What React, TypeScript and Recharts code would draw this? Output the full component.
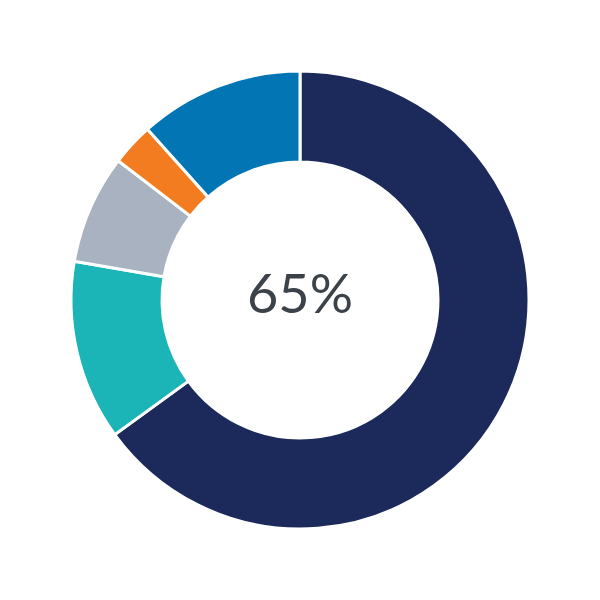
import React from "react";
import { PieChart, Pie, Cell, Label } from "recharts";

const categories = ["Navy", "Teal", "Grey", "Orange", "Blue"];
const values = [65, 12.7, 7.7, 3, 11.6];
const colors = ["#1b2a5b", "#1bb5b7", "#a8b2c0", "#f47c20", "#0276b5"];
const centerLabel = "65%";

const data = categories.map((name, i) => ({ name, value: values[i] }));

const CenterText = (props: any) => {
  const vb = props.viewBox || {};
  const cx = vb.cx ?? 287;
  const cy = vb.cy ?? 287;
  return (
    <text
      x={cx + 5}
      y={cy - 3}
      textAnchor="middle"
      dominantBaseline="central"
      fill="#3b4249"
      style={{ fontFamily: "Lato, sans-serif", fontSize: 54, fontWeight: 400 }}
    >
      {centerLabel}
    </text>
  );
};

export default function App() {
  return (
    <PieChart width={584} height={584}>
      <Pie
        data={data}
        dataKey="value"
        nameKey="name"
        cx={287}
        cy={287}
        innerRadius={138}
        outerRadius={229}
        startAngle={90}
        endAngle={-270}
        stroke="#ffffff"
        strokeWidth={3}
        isAnimationActive={false}
      >
        {data.map((d, i) => (
          <Cell key={d.name} fill={colors[i]} />
        ))}
        <Label position="center" content={CenterText} />
      </Pie>
    </PieChart>
  );
}
